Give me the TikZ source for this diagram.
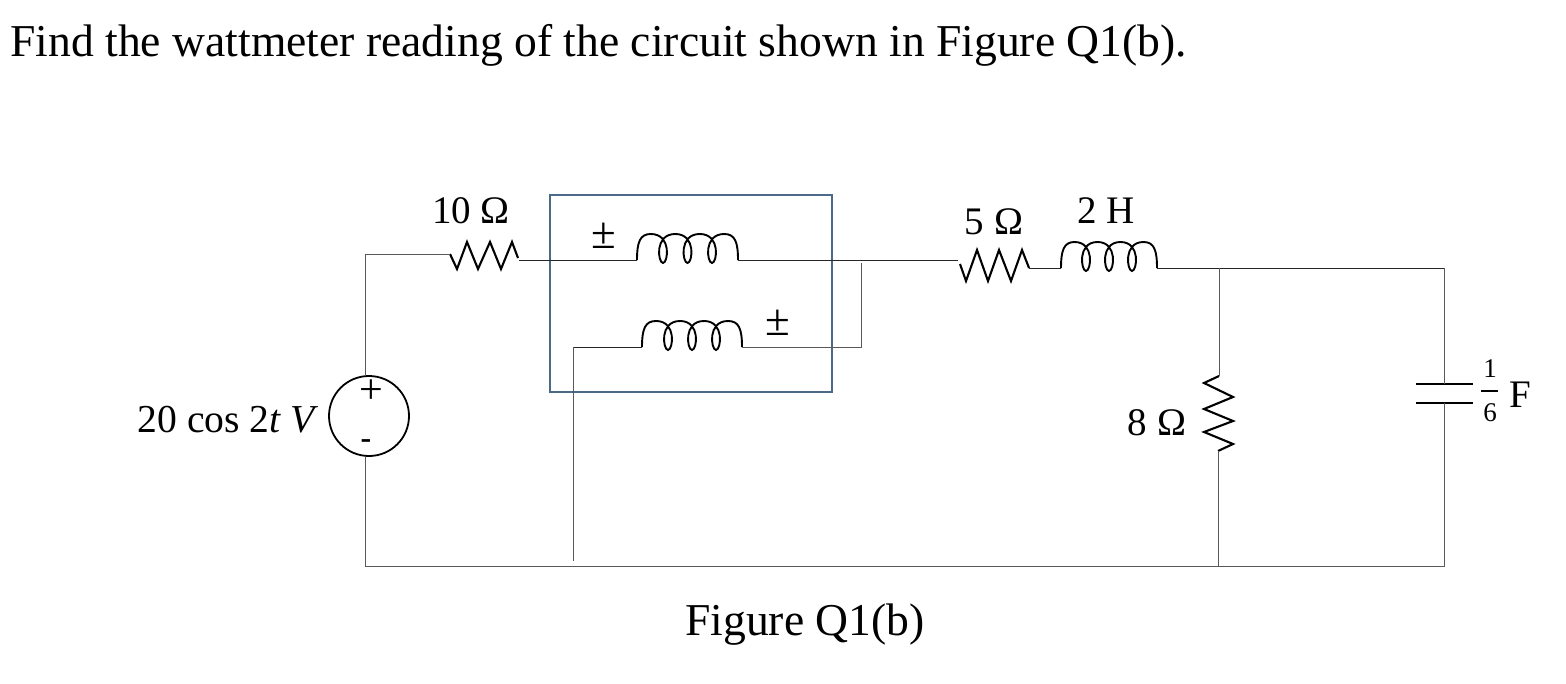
\documentclass[tikz,border=0pt]{standalone}
\usepackage{fontspec}
\setmainfont{Liberation Serif}
\usetikzlibrary{positioning,calc}
\definecolor{boxblue}{HTML}{4A6A88}
\tikzstyle{wire}=[line width=0.5pt,black!65]
\tikzstyle{darkwire}=[line width=0.45pt,black!85]
\tikzstyle{part}=[line width=1.05pt,black,line join=miter]
\tikzstyle{wbox}=[line width=0.95pt,draw=boxblue]
\tikzstyle{lab}=[inner sep=0pt,font=\fontsize{19.5}{22}\selectfont]
\tikzstyle{big}=[inner sep=0pt,font=\fontsize{22.8}{26}\selectfont]
\tikzstyle{dot}=[inner sep=0pt,font=\fontsize{22.5}{26}\selectfont]
\tikzstyle{small}=[inner sep=0pt,font=\fontsize{13.5}{15}\selectfont]
% name, left x, wire y, first loop offset, loop pitch
\newcommand*{\coil}[5]{
  \coordinate (#1l) at (#2,#3);
  \coordinate (#1r) at ({#2+2*#4+2*#5},#3);
  \draw[part,line width=0.95pt] (#1l) .. controls (#2,#3-18) and ({#2+3},#3-26) .. ({#2+#4-#5/2},#3-26)
    foreach \i in {0,1,2} {
      .. controls ({#2+#4+\i*#5+9},#3-26) and ({#2+#4+\i*#5+5},#3+3) .. ({#2+#4+\i*#5},#3+3)
      .. controls ({#2+#4+\i*#5-5},#3+3) and ({#2+#4+\i*#5-9},#3-26) .. ({#2+#4+\i*#5+#5/2},#3-26)
    }
    .. controls ({#2+2*#4+2*#5-3},#3-26) and ({#2+2*#4+2*#5},#3-18) .. (#1r);
}
\begin{document}
\begin{tikzpicture}[x=0.5pt,y=-0.5pt]
  \useasboundingbox (0,0) rectangle (1566,684);
  \node[big,anchor=west] (title) at (10,45) {Find the wattmeter reading of the circuit shown in Figure Q1(b).};
  \node[big] (caption) at (805,625) {Figure Q1(b)};
  % source
  \node[circle,draw,line width=0.9pt,minimum size=40pt,inner sep=0pt] (src) at (369,416) {};
  \node[inner sep=0pt,font=\fontsize{21}{24}\selectfont] (srcplus) at (371,392) {+};
  \node[inner sep=0pt,font=\fontsize{16}{18}\selectfont\bfseries] (srcminus) at (366,444) {-};
  \node[lab,font=\fontsize{19.8}{22}\selectfont,anchor=east] (srclab) at (319,420) {20 cos 2\textit{t V}};
  % wattmeter box
  \node[wbox,draw,minimum width=141pt,minimum height=98.5pt,inner sep=0pt] (meter) at (691,293.5) {};
  \coil{ca}{637}{260}{26}{24.5}
  \coil{cb}{642}{347}{26}{24}
  \coil{cc}{1061}{268}{25}{23}
  \node[dot] (pma) at (604,236) {±};
  \node[dot] (pmb) at (778,323) {±};
  % resistors
  \coordinate (ra1) at (450,254);
  \coordinate (ra2) at (519,260);
  \draw[part] (ra1) -- (457,269) -- (467,242) -- (478,269) -- (490,242) -- (501,269) -- (512,242) -- (518,258);
  \coordinate (rb1) at (958,260);
  \coordinate (rb2) at (1029,268);
  \draw[part] (960,264) -- (966,281) -- (977,250) -- (988,281) -- (999,250) -- (1011,281) -- (1022,250) -- (rb2);
  \coordinate (rc1) at (1219,376);
  \coordinate (rc2) at (1218,451);
  \draw[part] (rc1) -- (1204,383) -- (1233,397) -- (1204,409) -- (1233,421) -- (1204,432) -- (1233,444) -- (rc2);
  % capacitor
  \coordinate (capt) at (1444,384);
  \coordinate (capb) at (1444,403);
  \draw[part] (1416,384) -- (1473,384);
  \draw[part] (1416,403) -- (1473,403);
  % corners
  \coordinate (tl) at (365,254);
  \coordinate (bl) at (365,566);
  \coordinate (tr) at (1444,268);
  \coordinate (br) at (1444,566);
  \coordinate (jr) at (1219,268);
  \coordinate (jb) at (1218,566);
  \coordinate (sense) at (861,263);
  \coordinate (sensec) at (861,347);
  \coordinate (lead) at (573,347);
  \coordinate (leadb) at (573,561);
  % wires
  \draw[wire] (src.north -| tl) -- (tl) -- (ra1);
  \draw[wire] (src.south -| bl) -- (bl) -- (br) -- (capb);
  \draw[darkwire] (ra2) -- (cal);
  \draw[darkwire] (car) -- (rb1);
  \draw[darkwire] (lead) -- (cbl);
  \draw[wire] (lead) -- (leadb);
  \draw[wire] (cbr) -- (sensec) -- (sense);
  \draw[darkwire] (rb2) -- (ccl);
  \draw[darkwire] (ccr) -- (tr);
  \draw[wire] (tr) -- (capt);
  \draw[wire] (jr) -- (rc1);
  \draw[wire] (rc2) -- (jb);
  % labels
  \node[lab] (ralab) at (471,211) {10 Ω};
  \node[lab] (rblab) at (994,222) {5 Ω};
  \node[lab] (cclab) at (1106,211) {2 H};
  \node[lab] (rclab) at (1157,423) {8 Ω};
  \node[small] (num) at (1490,369) {1};
  \node[small] (den) at (1490,413) {6};
  \coordinate (barl) at (1481,391);
  \coordinate (barr) at (1498,391);
  \draw[part,line width=0.8pt] (barl) -- (barr);
  \node[lab] (capf) at (1520,395) {F};
\end{tikzpicture}
\end{document}
